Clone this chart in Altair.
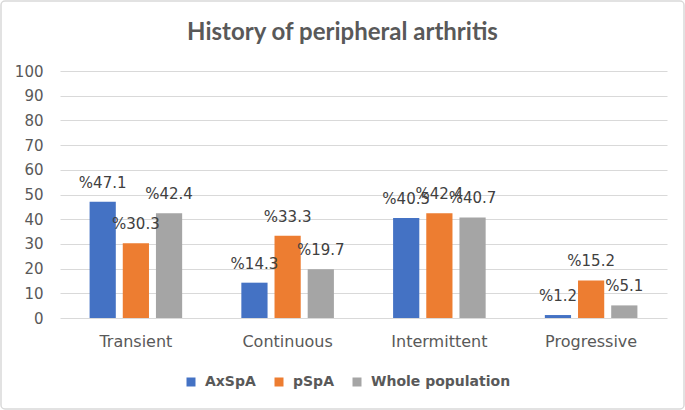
import altair as alt
import pandas as pd

# Chart data
categories = ["Transient", "Continuous", "Intermittent", "Progressive"]
groups = ["AxSpA", "pSpA", "Whole population"]
axspa = [47.1, 14.3, 40.5, 1.2]
pspa = [30.3, 33.3, 42.4, 15.2]
whole = [42.4, 19.7, 40.7, 5.1]
y_ticks = list(range(0, 101, 10))
colors = ["#4472C4", "#ED7D31", "#A5A5A5"]

rows = []
for series, vals in zip(groups, [axspa, pspa, whole]):
    for cat, v in zip(categories, vals):
        rows.append({"category": cat, "group": series, "value": v, "label": f"%{v}"})
df = pd.DataFrame(rows)

W, H = 607, 247
FONT = "DejaVu Sans"
GREY = "#595959"

x = alt.X(
    "category:N",
    sort=categories,
    scale=alt.Scale(paddingInner=0.39, paddingOuter=0.195),
    axis=alt.Axis(title=None, labelAngle=0, labelFont=FONT, labelFontSize=16,
                  labelColor=GREY, labelPadding=15, ticks=False, domain=False),
)
xoff = alt.XOffset("group:N", sort=groups, scale=alt.Scale(paddingInner=0.21, paddingOuter=0))
y = alt.Y(
    "value:Q",
    scale=alt.Scale(domain=[0, 100]),
    axis=alt.Axis(values=y_ticks, title=None, grid=True, gridColor="#d9d9d9",
                  domain=False, ticks=False, labelPadding=17, labelFont=FONT,
                  labelFontSize=15, labelColor=GREY),
)

base = alt.Chart(df)

bars = base.mark_bar().encode(
    x=x,
    xOffset=xoff,
    y=y,
    color=alt.Color(
        "group:N",
        sort=groups,
        scale=alt.Scale(domain=groups, range=colors),
        legend=alt.Legend(
            title=None, orient="none", legendX=124, legendY=304,
            direction="horizontal", symbolType="square", symbolSize=81,
            symbolStrokeWidth=0, labelFont=FONT, labelFontSize=14,
            labelFontWeight="bold", labelColor=GREY, columnPadding=16,
            labelOffset=7,
        ),
    ),
)

labels = base.mark_text(
    dy=-19, baseline="middle", font=FONT, fontSize=15, color="#404040"
).encode(x=x, xOffset=xoff, y=y, text="label:N")

# light rounded frame around the whole figure
frame = alt.Chart(pd.DataFrame({"f": [0]})).mark_rect(
    fill=None, stroke="#d9d9d9", strokeWidth=1.5, cornerRadius=4
).encode(
    x=alt.value(-59), x2=alt.value(W + 17), y=alt.value(-70), y2=alt.value(H + 91)
)

chart = alt.layer(frame, bars, labels).properties(
    width=W,
    height=H,
    autosize="none",
    padding={"left": 60, "top": 71, "right": 18, "bottom": 92},
    title=alt.TitleParams(
        "History of peripheral arthritis", anchor="middle", dx=-21, offset=-64,
        baseline="alphabetic", font="Lato", fontSize=24, fontWeight="bold",
        color=GREY,
    ),
).configure_view(stroke=None)

chart.save("out.html", embed_options={"renderer": "svg", "actions": False})
